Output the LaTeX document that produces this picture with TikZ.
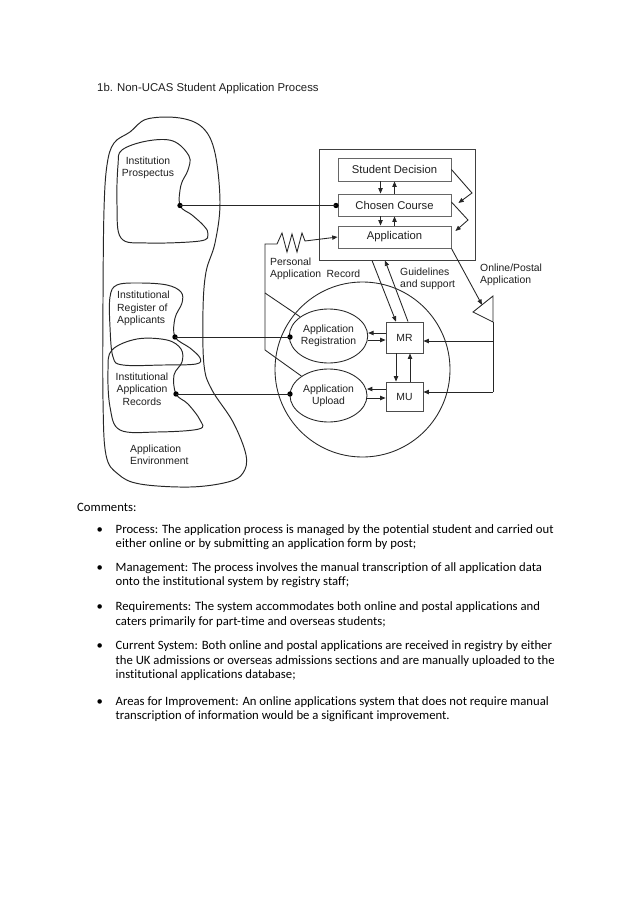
\documentclass[tikz,border=0pt]{standalone}
\usepackage{fontspec}
\setmainfont{Carlito}[Ligatures={NoCommon}]
\newfontfamily\arialf{Liberation Sans}
\usetikzlibrary{arrows.meta,shapes.geometric,calc}
\newdimen\pxu \pxu=0.93304pt
\tikzset{
 ln/.style={draw=black!85, line width=0.8pt},
 arr/.style={ln, -{Triangle[length=5pt,width=4pt]}},
 lbl/.style={inner sep=0pt, font=\arialf\fontsize{9.7}{11.5}\selectfont, text=black!88},
 sbox/.style={draw=black!60, line width=0.8pt, rectangle, inner sep=0pt, minimum width=113*\pxu, font=\arialf\fontsize{10.5}{12}\selectfont, text=black!88},
 mbox/.style={lbl, draw=black!70, line width=0.8pt, rectangle, minimum width=37*\pxu},
 ell/.style={lbl, draw=black!85, line width=0.8pt, ellipse, minimum width=77*\pxu, align=center},
 dotn/.style={circle, fill=black, inner sep=0pt, minimum size=5pt},
 blob/.style={ln, line width=0.9pt},
 ctext/.style={anchor=base west, inner sep=0pt, font=\fontsize{11.85}{13.4}\selectfont},
}
\begin{document}
\begin{tikzpicture}[x=\pxu, y=-\pxu]
\fill[white] (0,0) rectangle (638,902);
\useasboundingbox (0,0) rectangle (638,902);

% title
\node[anchor=base west, inner sep=0pt, font=\arialf\fontsize{10.6}{12}\selectfont, text=black!88] (title) at (97,92) {1b. Non-UCAS Student Application Process};

% blobs
\draw[blob] plot[smooth cycle, tension=0.6] coordinates {(147,119) (180,118) (203,128) (215,153) (220,203) (215,243) (206,272) (203,310) (204,365) (212,390) (233,422) (246,455) (243,473) (228,482) (190,487) (140,484) (118,474) (106,455) (103,400) (103,300) (104,210) (107,165) (114,143) (130,132)};
\draw[blob] plot[smooth cycle, tension=0.6] coordinates {(122,150) (147,141) (173,141) (189,156) (188,170) (181,185) (180,205.5) (192,215) (204,226) (208,234) (200,241) (147,243) (121,238) (117,205) (118,165)};
\draw[blob] plot[smooth cycle, tension=0.6] coordinates {(117,285) (140,283) (167,285) (181,292) (182,303) (175,318) (175,337) (190,348) (200,358) (196,364) (163,365) (123,365) (113,357) (110,327) (110,297)};
\draw[blob] plot[smooth cycle, tension=0.6] coordinates {(112,350) (137,339) (167,340) (181,349) (182,362) (174,375) (176,394) (188,404) (200,420) (199,429) (157,432) (120,430) (110,407) (108,370)};

% blob labels
\node[lbl, align=center] (lip) at (148,167.5) {Institution\\Prospectus};
\node[lbl, align=left, anchor=west] (lir) at (117,308.5) {Institutional\\Register of\\Applicants};
\node[lbl, align=center] (lia) at (142,389) {Institutional\\Application\\Records};
\node[lbl, align=left, anchor=west] (lae) at (130,455) {Application\\Environment};

% student frame
\node[draw=black!75, line width=0.85pt, rectangle, minimum width=156*\pxu, minimum height=111*\pxu, inner sep=0pt] (frame) at (397,204.5) {};
\node[sbox, minimum height=23*\pxu] (sd) at (394.5,169.5) {Student Decision};
\node[sbox, minimum height=22*\pxu] (cc) at (394.5,205) {Chosen Course};
\node[sbox, minimum height=22*\pxu] (ap) at (394.5,237) {Application};

\draw[arr] ($(sd.south)+(-14,0)$) -- ($(cc.north)+(-14,0)$);
\draw[arr] (cc.north) -- (sd.south);
\draw[arr] ($(cc.south)+(-14,0)$) -- ($(ap.north)+(-14,0)$);
\draw[arr] (ap.north) -- (cc.south);

\draw[arr] (sd.east) -- (472,193) -- ($(cc.east)+(7,-2)$);
\draw[arr] ($(cc.east)+(0,-3)$) -- (468,220) -- ($(ap.east)+(4,-6)$);

% big circle and inner nodes
\node[draw=black!85, line width=0.8pt, circle, minimum size=175*\pxu, inner sep=0pt] (bigc) at (362.5,369.5) {};
\node[ell, minimum height=54*\pxu] (ar) at (328.5,336) {Application\\Registration};
\node[ell, minimum height=53*\pxu] (au) at (328.5,395.5) {Application\\Upload};
\node[mbox, minimum height=31*\pxu] (mr) at (404.5,337.5) {MR};
\node[mbox, minimum height=29*\pxu] (mu) at (404.5,396.5) {MU};

\draw[arr] ($(mr.west)+(0,-4.5)$) -- ($(ar.east)+(0,-3)$);
\draw[arr] ($(ar.east)+(0,4)$) -- ($(mr.west)+(0,2.5)$);
\draw[arr] ($(mu.west)+(0,-7.5)$) -- ($(au.east)+(-0.5,-6.5)$);
\draw[arr] ($(au.east)+(-0.3,2.5)$) -- ($(mu.west)+(0,1.5)$);
\draw[arr] ($(mr.south)+(-8.5,0)$) -- ($(mu.north)+(-8.5,0)$);
\draw[arr] ($(mu.north)+(5.5,0)$) -- ($(mr.south)+(5.5,0)$);

\draw[arr] ($(frame.south)+(-25,0)$) -- ($(mr.north)+(-8.5,0)$);
\draw[arr] ($(mr.north)+(3.5,0)$) -- ($(frame.south)+(-12,0)$);

% online / postal triangle
\coordinate (ta) at (473,312);
\coordinate (tt) at (493,296);
\coordinate (tb) at (493,322);
\coordinate (te) at (482,304.8);
\coordinate (tj) at (493,341);
\coordinate (tk) at (493,392);
\draw[ln] (ta) -- (tt) -- (tb) -- cycle;
\draw[arr] (ap.south east) -- (te);
\draw[ln] (tb) -- (tk);
\draw[arr] (tj) -- (mr.east |- tj);
\draw[arr] (tk) -- (mu.east |- tk);

% personal application record
\coordinate (pb) at (265,350);
\coordinate (pj) at (265,293);
\draw[arr] (pb) -- (265,244) -- (277,244) -- (282,233) -- (287,252) -- (292,234) -- (297,252) -- (302,233) -- (305,241) -- (ap.west);
\draw[ln] (pj) -- (ar);
\draw[ln] (pb) -- (au);

% dots and horizontal links
\node[dotn] (dp) at (180,205.5) {};
\node[dotn] (dc) at (336,205.5) {};
\draw[ln] (dp.center) -- (dc.center);
\node[dotn] (dr) at (175,337) {};
\node[dotn] (dar) at (290,337) {};
\draw[ln] (dr.center) -- (dar.center);
\node[dotn] (dd) at (176,394) {};
\node[dotn] (dau) at (290,394) {};
\draw[ln] (dd.center) -- (dau.center);

% labels
\node[lbl, align=left, anchor=west] (lpar) at (270,268.5) {Personal\\Application\hspace{5.3pt}Record};
\node[lbl, align=left, anchor=west] (lgs) at (400,278.5) {Guidelines\\and support};
\node[lbl, align=left, anchor=west] (lop) at (480,275) {Online/Postal\\Application};

% comments
\node[ctext] (cm) at (77,511.7) {Comments:};
\foreach \yy/\nm in {533.3/b1, 571/b2, 610.5/b3, 649.3/b4, 705/b5}
  \node[ctext] (\nm) at (96.5,\yy) {\textbullet};
\node[ctext] (t1a) at (115.5,533.3) {Process: The application process is managed by the potential student and carried out};
\node[ctext] (t1b) at (115.5,547.7) {either online or by submitting an application form by post;};
\node[ctext] (t2a) at (115.5,571) {Management: The process involves the manual transcription of all application data};
\node[ctext] (t2b) at (115.5,585.3) {onto the institutional system by registry staff;};
\node[ctext] (t3a) at (115.5,610.5) {Requirements: The system accommodates both online and postal applications and};
\node[ctext] (t3b) at (115.5,625) {caters primarily for part-time and overseas students;};
\node[ctext] (t4a) at (115.5,649.3) {Current System: Both online and postal applications are received in registry by either};
\node[ctext] (t4b) at (115.5,664) {the UK admissions or overseas admissions sections and are manually uploaded to the};
\node[ctext] (t4c) at (115.5,678.3) {institutional applications database;};
\node[ctext] (t5a) at (115.5,705) {Areas for Improvement: An online applications system that does not require manual};
\node[ctext] (t5b) at (115.5,719.3) {transcription of information would be a significant improvement.};
\end{tikzpicture}
\end{document}
